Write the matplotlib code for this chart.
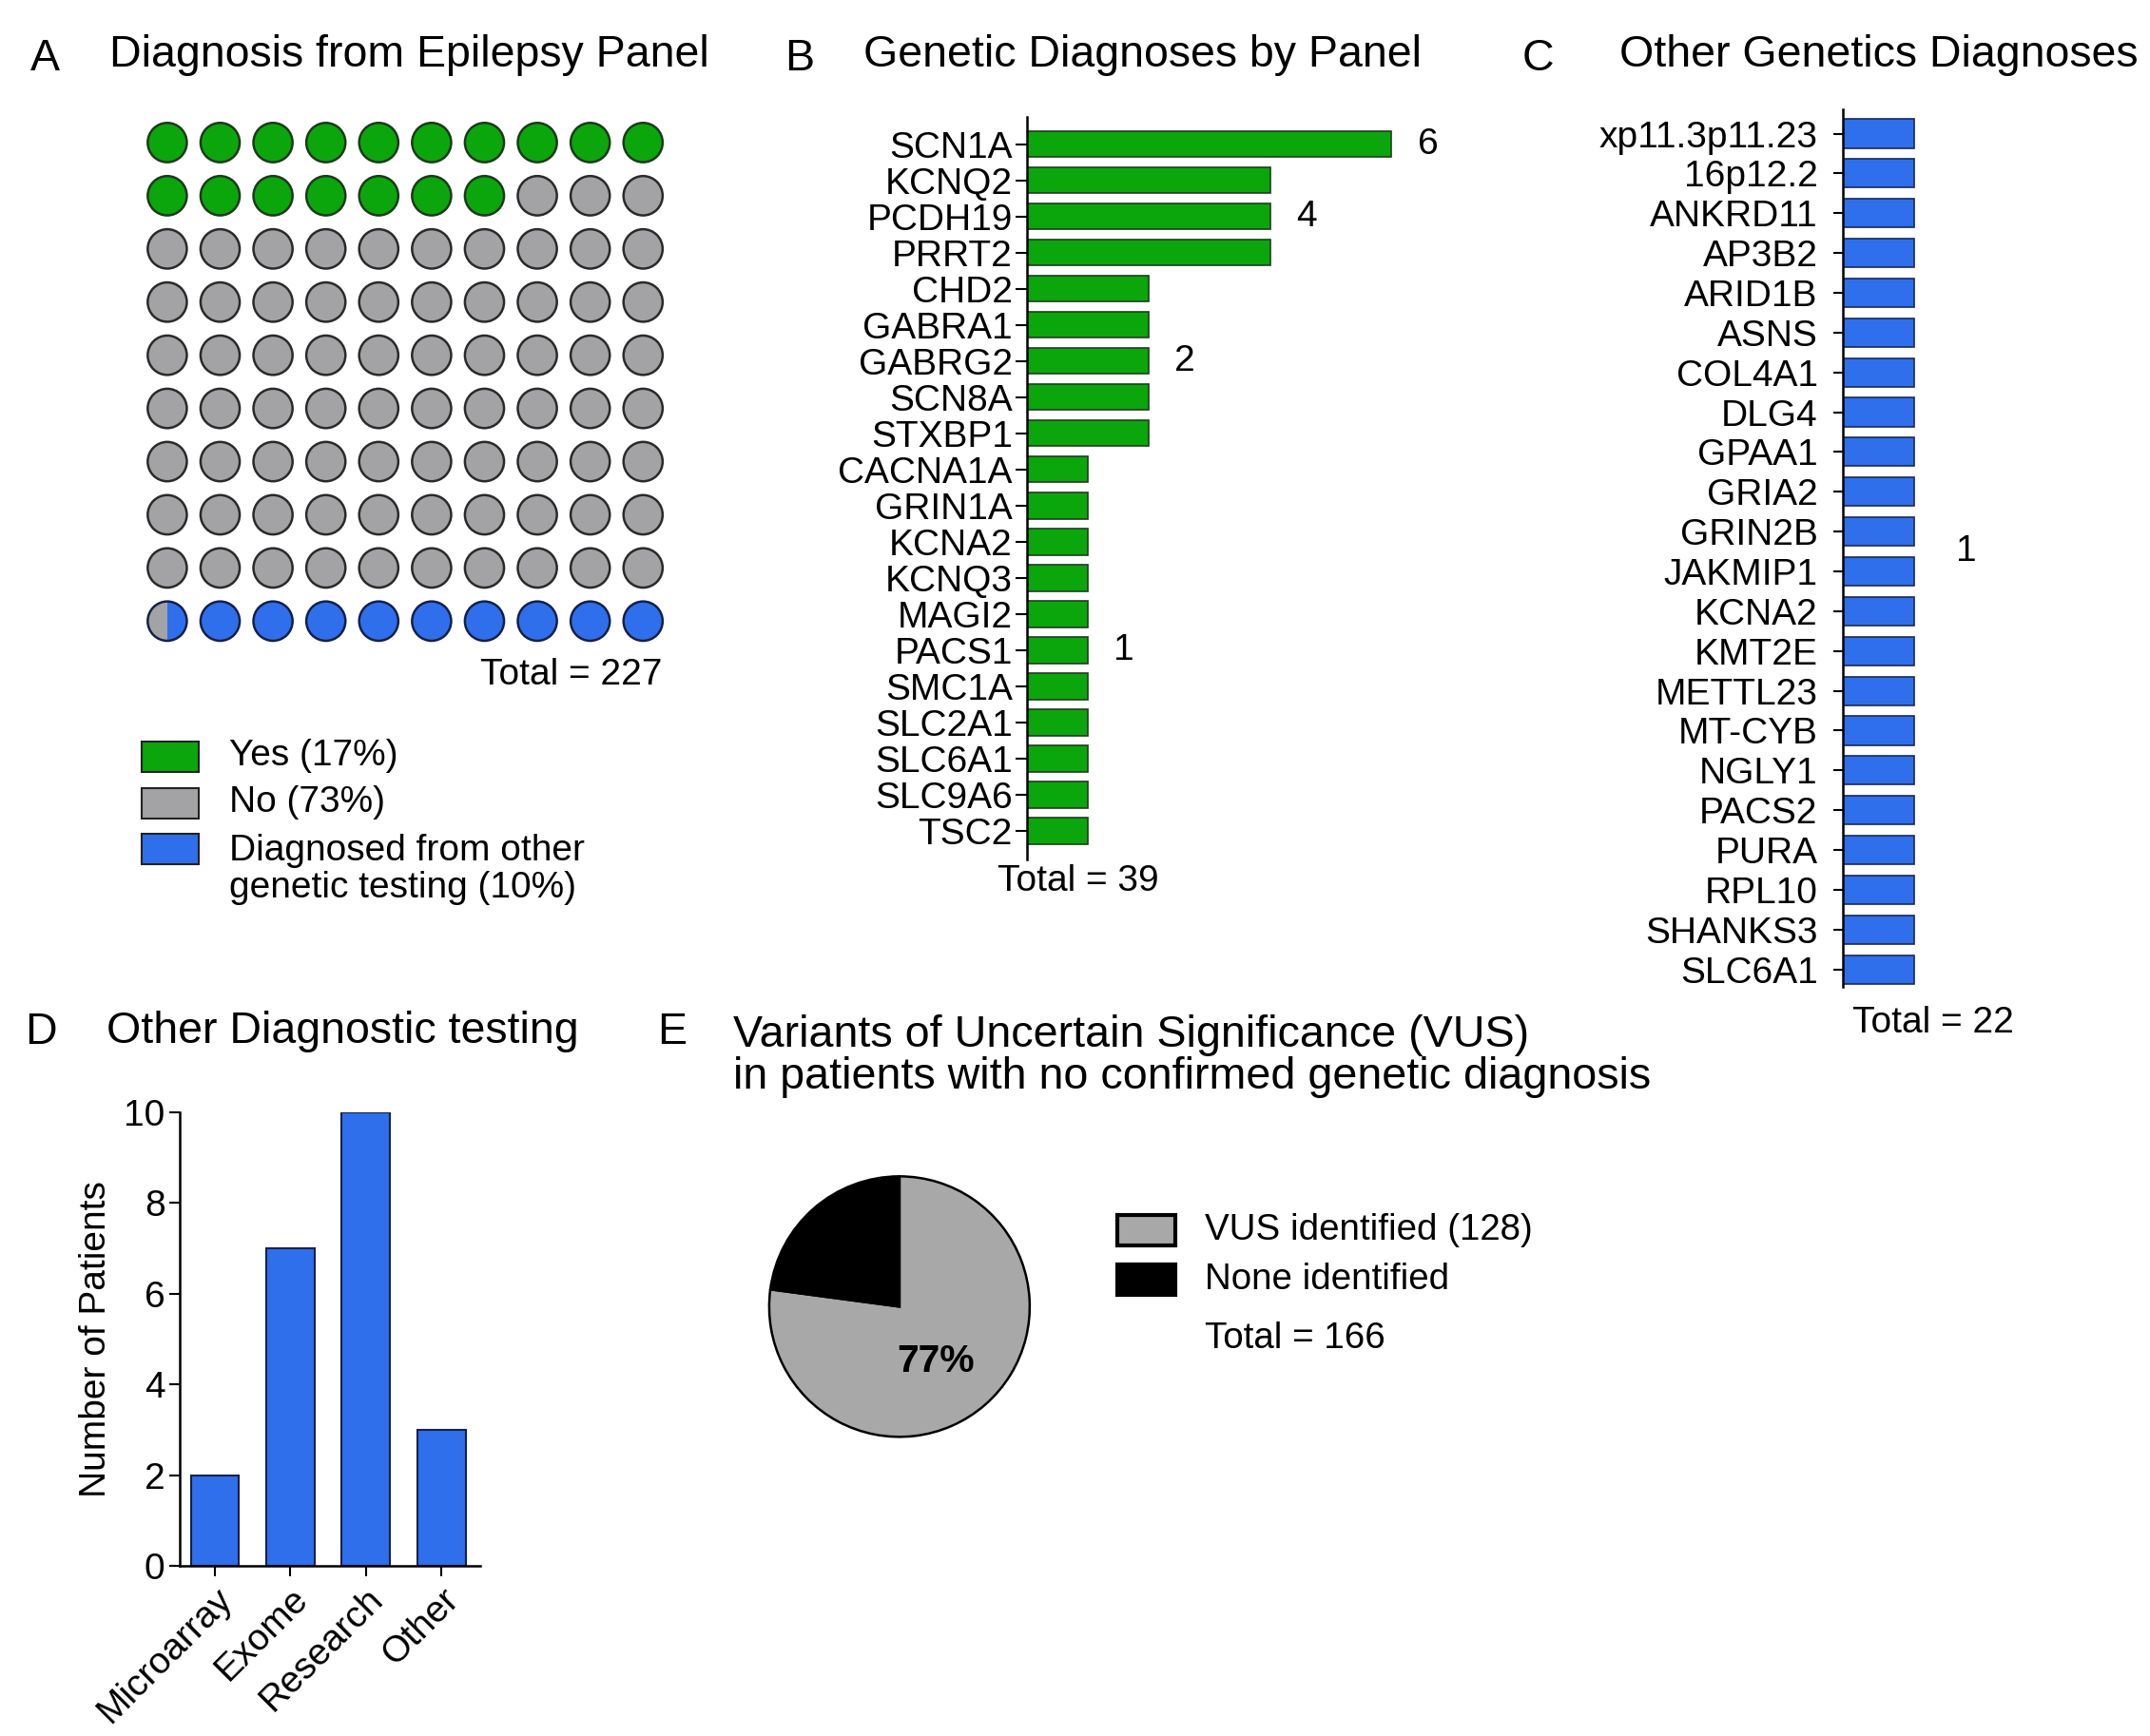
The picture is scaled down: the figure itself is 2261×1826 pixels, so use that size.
import matplotlib
matplotlib.use('Agg')
import numpy as np
import matplotlib.pyplot as plt
from matplotlib import font_manager
from matplotlib.patches import Circle, Rectangle

# panel A: 100 dots, counts of dots per category (last gray dot is split)
dot_counts = [17, 73.5, 9.5]
dot_names = ['Yes (17%)', 'No (73%)', 'Diagnosed from other\ngenetic testing (10%)']
total_a = 227

# panel B
panel_genes = ['SCN1A', 'KCNQ2', 'PCDH19', 'PRRT2', 'CHD2', 'GABRA1', 'GABRG2', 'SCN8A',
               'STXBP1', 'CACNA1A', 'GRIN1A', 'KCNA2', 'KCNQ3', 'MAGI2', 'PACS1', 'SMC1A',
               'SLC2A1', 'SLC6A1', 'SLC9A6', 'TSC2']
panel_counts = [6, 4, 4, 4, 2, 2, 2, 2, 2, 1, 1, 1, 1, 1, 1, 1, 1, 1, 1, 1]
total_b = 39

# panel C
other_genes = ['xp11.3p11.23', '16p12.2', 'ANKRD11', 'AP3B2', 'ARID1B', 'ASNS', 'COL4A1',
               'DLG4', 'GPAA1', 'GRIA2', 'GRIN2B', 'JAKMIP1', 'KCNA2', 'KMT2E', 'METTL23',
               'MT-CYB', 'NGLY1', 'PACS2', 'PURA', 'RPL10', 'SHANKS3', 'SLC6A1']
other_counts = [1] * 22
total_c = 22

# panel D
test_types = ['Microarray', 'Exome', 'Research', 'Other']
test_patients = [2, 7, 10, 3]

# panel E
vus_labels = ['VUS identified (128)', 'None identified']
vus_values = [128, 38]
total_e = 166

GREEN = '#0ba60b'
GRAY = '#a3a3a5'
BLUE = '#2f6fec'
PIE_GRAY = '#a8a8a8'

plt.rcParams['font.family'] = ['Liberation Sans', 'DejaVu Sans']
names = {f.name for f in font_manager.fontManager.ttflist}
if 'Liberation Sans Narrow' in names:
    narrow = 'Liberation Sans Narrow'
    nscale = 1.0
else:
    narrow = 'Liberation Sans'
    nscale = 0.84

fig = plt.figure(figsize=(22.61, 18.26), dpi=100)

def fx(x):
    return x / 1568.0

def fy(y):
    return 1 - y / 1266.0

TITLE = 33.5
LBL = 28

# ---------------- panel A ----------------
fig.text(fx(33), fy(43), 'A', fontsize=TITLE, va='center', ha='center')
fig.text(fx(80), fy(40), 'Diagnosis from Epilepsy Panel', fontsize=TITLE, va='center')
axA = fig.add_axes([0.0655, 0.6269, 0.2459, 0.3063])
axA.set_xlim(-0.5, 9.5)
axA.set_ylim(9.5, -0.5)
axA.axis('off')
colors_a = [GREEN, GRAY, BLUE]
edges_a = ['#1c3a1c', '#2a2a2a', '#14204a']
bounds = np.cumsum([0] + dot_counts)
r = 0.37
for k in range(100):
    row, col = k // 10, k % 10
    for ci in range(3):
        lo, hi = bounds[ci], bounds[ci + 1]
        part = min(k + 1, hi) - max(k, lo)
        if part <= 0:
            continue
        c = Circle((col, row), r, facecolor=colors_a[ci], edgecolor='none', zorder=2)
        axA.add_patch(c)
        if part < 1:
            start = max(k, lo) - k
            clip = Rectangle((col - r + 2 * r * start, row - 1), 2 * r * part, 2,
                             transform=axA.transData, visible=False)
            axA.add_patch(clip)
            c.set_clip_path(clip)
    edge_ci = int(np.searchsorted(bounds, k + 1, side='left')) - 1
    axA.add_patch(Circle((col, row), r, facecolor='none',
                         edgecolor=edges_a[min(edge_ci, 2)], lw=1.8, zorder=3))

fig.text(fx(483), fy(492), 'Total = %d' % total_a, fontsize=LBL, ha='right', va='center')
leg_y = [552, 586, 619]
txt_y = [551, 585, 634]
for i in range(3):
    fig.add_artist(Rectangle((fx(103), fy(leg_y[i] + 11)), fx(145) - fx(103),
                             fy(leg_y[i] - 11) - fy(leg_y[i] + 11),
                             transform=fig.transFigure, facecolor=colors_a[i],
                             edgecolor='#222222', lw=1.5))
    fig.text(fx(167), fy(txt_y[i]), dot_names[i], fontsize=LBL, va='center',
             linespacing=1.12)


def hbar_panel(rect, labels, values, color, edge, xmax, ylim, offset, tick_len, pad):
    ax = fig.add_axes(rect)
    ypos = np.arange(len(labels))
    ax.barh(ypos, values, height=0.72, color=color, edgecolor=edge, lw=1.2)
    ax.set_ylim(*ylim)
    ax.set_xlim(0, xmax)
    ax.set_yticks(ypos)
    ax.set_yticklabels(labels, fontsize=LBL)
    ax.set_xticks([])
    for s in ['top', 'right', 'bottom']:
        ax.spines[s].set_visible(False)
    ax.spines['left'].set_linewidth(1.8)
    ax.tick_params(axis='y', length=tick_len, width=1.5, pad=pad, direction='out')
    vals = np.array(values)
    for v in sorted(set(values), reverse=True):
        rows = ypos[vals == v]
        ax.text(v + offset, rows.mean(), str(v), fontsize=LBL, va='center', ha='center')
    return ax

# ---------------- panel B ----------------
fig.text(fx(583), fy(43), 'B', fontsize=TITLE, va='center', ha='center')
fig.text(fx(630), fy(40), 'Genetic Diagnoses by Panel', fontsize=TITLE, va='center')
hbar_panel([0.4777, 0.5047, 0.1978, 0.4281], panel_genes, panel_counts, GREEN, '#1f3d1f',
           7, (19.8, -0.76), 0.6, 9, 2)
fig.text(fx(786), fy(643), 'Total = %d' % total_b, fontsize=LBL, ha='center', va='center')

# ---------------- panel C ----------------
fig.text(fx(1122), fy(43), 'C', fontsize=TITLE, va='center', ha='center')
fig.text(fx(1181), fy(40), 'Other Genetics Diagnoses', fontsize=TITLE, va='center')
hbar_panel([0.8571, 0.4313, 0.0663, 0.5055], other_genes, other_counts, BLUE, '#1a2a55',
           2, (21.45, -0.6), 0.73, 7, 12)
fig.text(fx(1410), fy(746), 'Total = %d' % total_c, fontsize=LBL, ha='center', va='center')

# ---------------- panel D ----------------
fig.text(fx(30), fy(753), 'D', fontsize=TITLE, va='center', ha='center')
fig.text(fx(78), fy(752), 'Other Diagnostic testing', fontsize=TITLE, va='center')
axD = fig.add_axes([0.0835, 0.0979, 0.1397, 0.2615])
xd = np.arange(len(test_types))
axD.bar(xd, test_patients, width=0.64, color=BLUE, edgecolor='#16204a', lw=1.5)
axD.set_xlim(-0.47, 3.51)
axD.set_ylim(0, 10)
axD.set_yticks([0, 2, 4, 6, 8, 10])
axD.tick_params(axis='y', labelsize=LBL, length=8, width=1.5, pad=3)
axD.set_xticks(xd)
axD.set_xticklabels(test_types, rotation=45, ha='right', rotation_mode='anchor', fontsize=LBL)
axD.tick_params(axis='x', length=8, width=1.5, pad=4)
axD.set_ylabel('Number of Patients', fontsize=LBL, labelpad=8)
for s in ['top', 'right']:
    axD.spines[s].set_visible(False)
for s in ['left', 'bottom']:
    axD.spines[s].set_linewidth(1.8)

# ---------------- panel E ----------------
fig.text(fx(490), fy(753), 'E', fontsize=TITLE, va='center', ha='center')
fig.text(fx(535), fy(770), 'Variants of Uncertain Significance (VUS)\n'
         'in patients with no confirmed genetic diagnosis',
         fontsize=40 * nscale, family=narrow, va='center', linespacing=1.0)
axE = fig.add_axes([0.3517, 0.1648, 0.1333, 0.1651])
axE.pie(vus_values, colors=[PIE_GRAY, 'black'], startangle=90, counterclock=False,
        wedgeprops=dict(edgecolor='black', linewidth=1.8))
axE.set_xlim(-1.1, 1.1)
axE.set_ylim(-1.1, 1.1)
axE.set_aspect('equal')
pct = 100.0 * vus_values[0] / sum(vus_values)
axE.text(0.28, -0.42, '%d%%' % round(pct), fontsize=35 * nscale, family=narrow,
         fontweight='bold', ha='center', va='center')
e_box_y = [897, 933]
e_fill = [PIE_GRAY, 'black']
for i in range(2):
    fig.add_artist(Rectangle((fx(815), fy(e_box_y[i] + 11)), fx(857) - fx(815),
                             fy(e_box_y[i] - 11) - fy(e_box_y[i] + 11),
                             transform=fig.transFigure, facecolor=e_fill[i],
                             edgecolor='black', lw=3))
    fig.text(fx(879), fy(e_box_y[i]), vus_labels[i], fontsize=33 * nscale, family=narrow,
             va='center')
fig.text(fx(879), fy(976), 'Total = %d' % total_e, fontsize=33 * nscale, family=narrow,
         va='center')

fig.savefig('out.png', dpi=100, facecolor='white')
